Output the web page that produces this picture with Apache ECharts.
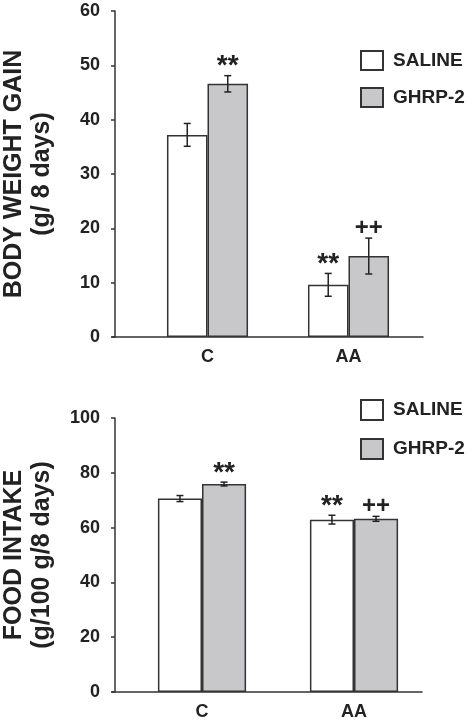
<!DOCTYPE html>
<html>
<head>
<meta charset="utf-8">
<script src="https://cdn.jsdelivr.net/npm/echarts@6/dist/echarts.min.js"></script>
<style>
html,body{margin:0;padding:0;background:#fff;}
#chart{width:466px;height:722px;}
</style>
</head>
<body>
<div id="chart"></div>
<script>
// ---- data ----
const categories = ['C', 'AA'];
const seriesNames = ['SALINE', 'GHRP-2'];

// Panel 1: body weight gain (g / 8 days)
const bwSaline    = [37.2, 9.6];
const bwSalineErr = [2.1, 2.1];
const bwGhrp      = [46.6, 14.9];
const bwGhrpErr   = [1.5, 3.3];
const bwSalineMarks = ['', '**'];
const bwGhrpMarks   = ['**', '++'];

// Panel 2: food intake (g/100 g / 8 days)
const fiSaline    = [70.6, 62.9];
const fiSalineErr = [1.1, 1.6];
const fiGhrp      = [75.9, 63.2];
const fiGhrpErr   = [0.7, 0.9];
const fiSalineMarks = ['', '**'];
const fiGhrpMarks   = ['**', '++'];

const bwAxis = {min: 0, max: 60, interval: 10};
const fiAxis = {min: 0, max: 100, interval: 20};

// ---- style ----
const FONT = 'Liberation Sans';
const INK = '#222';
const AXIS = '#333';
const GRAY = '#c8c8ca';

const chart = echarts.init(document.getElementById('chart'), null, {renderer: 'canvas'});

function errSeries(name, vals, errs, marks, side, xi, yi, catGap) {
  return {
    type: 'custom',
    name: name + ' err',
    xAxisIndex: xi, yAxisIndex: yi,
    z: 5,
    silent: true,
    data: vals.map((v, i) => [i, v, errs[i]]),
    renderItem: function (params, api) {
      const cat = api.value(0), v = api.value(1), e = api.value(2);
      const c = api.coord([cat, v]);
      const band = api.size([1, 0])[0];
      const bw = band * (1 - catGap) / 2;
      const x = c[0] + (side === 0 ? -bw / 2 : bw / 2);
      const yHi = api.coord([cat, v + e])[1];
      const yLo = api.coord([cat, v - e])[1];
      const cap = 3.5;
      const st = {stroke: INK, lineWidth: 1.5};
      const children = [
        {type: 'line', shape: {x1: x, y1: yHi, x2: x, y2: yLo}, style: st},
        {type: 'line', shape: {x1: x - cap, y1: yHi, x2: x + cap, y2: yHi}, style: st},
        {type: 'line', shape: {x1: x - cap, y1: yLo, x2: x + cap, y2: yLo}, style: st}
      ];
      const m = marks[params.dataIndex];
      if (m) {
        const isStar = m.indexOf('*') >= 0;
        children.push({
          type: 'text',
          style: {
            x: x, y: yHi - (isStar ? 9 : 10),
            text: m,
            fill: INK,
            font: 'bold ' + (isStar ? 28 : 24) + 'px "' + FONT + '"',
            textAlign: 'center',
            textVerticalAlign: 'middle'
          }
        });
      }
      return {type: 'group', children: children};
    }
  };
}

function barSeries(name, vals, xi, yi, color, catGap) {
  return {
    type: 'bar',
    name: name,
    xAxisIndex: xi, yAxisIndex: yi,
    data: vals,
    barGap: '0%',
    barCategoryGap: (catGap * 100) + '%',
    itemStyle: {color: color, borderColor: AXIS, borderWidth: 1.5},
    emphasis: {disabled: true}
  };
}

const frameX = (gi) => ({
  type: 'category', gridIndex: gi, data: categories,
  axisLine: {show: true, lineStyle: {color: AXIS, width: 1.5}},
  axisTick: {show: false}, axisLabel: {show: false}
});
const barX = (gi) => ({
  type: 'category', gridIndex: gi, data: categories,
  axisLine: {show: false}, axisTick: {show: false},
  axisLabel: {show: true, margin: 11, color: INK, fontFamily: FONT, fontWeight: 'bold', fontSize: 18}
});
const frameY = (gi, ax, name) => ({
  type: 'value', gridIndex: gi, min: ax.min, max: ax.max, interval: ax.interval,
  offset: -3,
  axisLine: {show: true, lineStyle: {color: AXIS, width: 1.5}},
  axisTick: {show: true, length: 4, lineStyle: {color: AXIS, width: 1.5}},
  splitLine: {show: false},
  axisLabel: {margin: 15, color: INK, fontFamily: FONT, fontWeight: 'bold', fontSize: 18},
  name: name, nameLocation: 'middle', nameRotate: 90, nameGap: 59,
  nameTextStyle: {color: INK, fontFamily: FONT, fontWeight: 'bold', fontSize: 25, lineHeight: 28}
});
const hiddenY = (gi, ax) => ({
  type: 'value', gridIndex: gi, min: ax.min, max: ax.max, interval: ax.interval,
  show: false, splitLine: {show: false}
});

const legendStyle = (top, ih, gap) => ({
  data: seriesNames, orient: 'vertical', left: 360, top: top, padding: 0,
  icon: 'rect', itemWidth: 22, itemHeight: ih, itemGap: gap,
  selectedMode: false,
  textStyle: {color: INK, fontFamily: FONT, fontWeight: 'bold', fontSize: 19, lineHeight: ih, padding: [0, 0, 0, 5]}
});

const GAP1 = 0.425, GAP2 = 0.42;
const gridBase = {outerBoundsMode: 'none', containLabel: false};

const option = {
  backgroundColor: '#fff',
  animation: false,
  grid: [
    Object.assign({left: 112, right: 43, top: 11, bottom: 385}, gridBase),
    Object.assign({left: 137, right: 47, top: 11, bottom: 385}, gridBase),
    Object.assign({left: 112, right: 44, top: 418, bottom: 30}, gridBase),
    Object.assign({left: 126, right: 36, top: 418, bottom: 30}, gridBase)
  ],
  xAxis: [frameX(0), barX(1), frameX(2), barX(3)],
  yAxis: [
    frameY(0, bwAxis, 'BODY WEIGHT GAIN\n(g/ 8 days)'),
    hiddenY(1, bwAxis),
    frameY(2, fiAxis, 'FOOD INTAKE\n(g/100 g/8 days)'),
    hiddenY(3, fiAxis)
  ],
  legend: [legendStyle(50, 19, 16), legendStyle(399, 20, 17)],
  series: [
    barSeries(seriesNames[0], bwSaline, 1, 1, '#ffffff', GAP1),
    barSeries(seriesNames[1], bwGhrp, 1, 1, GRAY, GAP1),
    errSeries(seriesNames[0], bwSaline, bwSalineErr, bwSalineMarks, 0, 1, 1, GAP1),
    errSeries(seriesNames[1], bwGhrp, bwGhrpErr, bwGhrpMarks, 1, 1, 1, GAP1),
    barSeries(seriesNames[0], fiSaline, 3, 3, '#ffffff', GAP2),
    barSeries(seriesNames[1], fiGhrp, 3, 3, GRAY, GAP2),
    errSeries(seriesNames[0], fiSaline, fiSalineErr, fiSalineMarks, 0, 3, 3, GAP2),
    errSeries(seriesNames[1], fiGhrp, fiGhrpErr, fiGhrpMarks, 1, 3, 3, GAP2)
  ]
};
chart.setOption(option);
</script>
</body>
</html>
